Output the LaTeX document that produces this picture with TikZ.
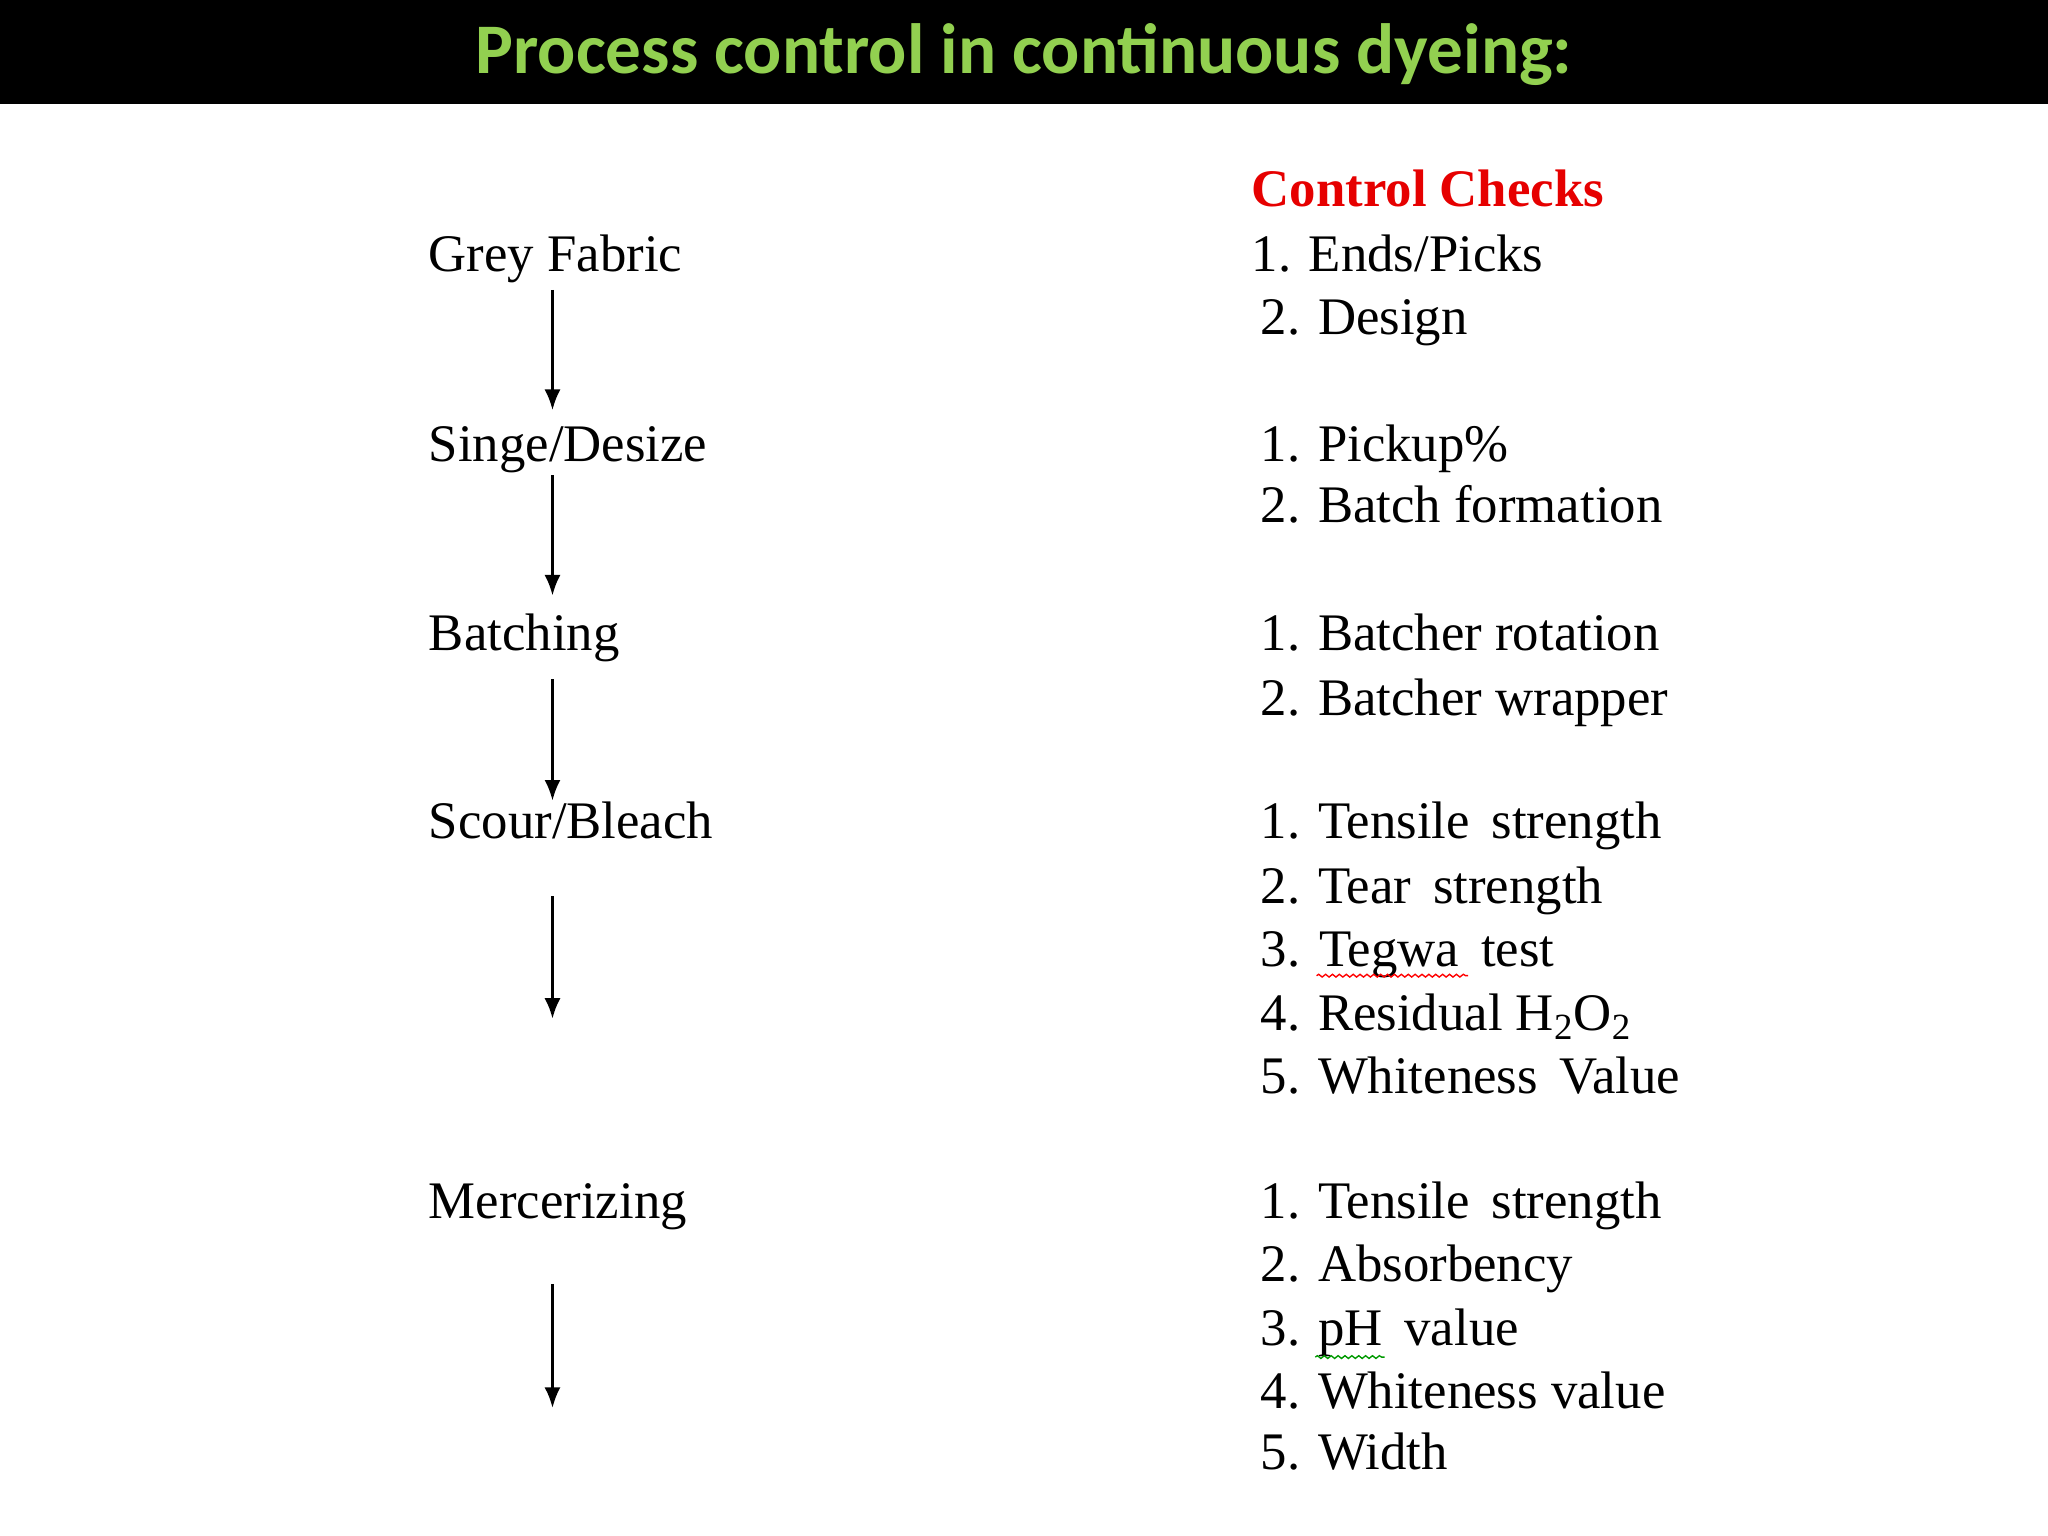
\documentclass[tikz,border=0pt]{standalone}
\usepackage{fontspec}
\setmainfont{Liberation Serif}
\newfontfamily\titlefont{Carlito}
\usetikzlibrary{arrows.meta,decorations.pathmorphing}
\definecolor{titlegreen}{RGB}{146,208,80}
\definecolor{ctlred}{RGB}{230,0,0}
\begin{document}
\begin{tikzpicture}[x=0.02cm,y=-0.02cm,
  lbl/.style={anchor=base west,inner sep=0pt,font=\fontsize{23}{26}\selectfont},
  flow/.style={-{Latex[length=9pt,width=7pt]},line width=1.2pt},
  squig/.style={decorate,decoration={snake,amplitude=0.6pt,segment length=3pt},line width=0.6pt}]
\useasboundingbox (0,0) rectangle (1568,1176);
\fill[black] (0,0) rectangle (1568,80);
\node (title) at (784,42) {\titlefont\bfseries\color{titlegreen}\fontsize{31}{36}\selectfont Process control in continuous dyeing:};
% left column
\node[lbl] (g) at (328,208) {Grey Fabric};
\node[lbl] (s) at (328,353) {Singe/Desize};
\node[lbl] (b) at (328,498) {Batching};
\node[lbl] (sc) at (328,642) {Scour/Bleach};
\node[lbl] (m) at (328,933) {Mercerizing};
\coordinate (a1) at (423,222); \coordinate (e1) at (423,314);
\coordinate (a2) at (423,364); \coordinate (e2) at (423,456);
\coordinate (a3) at (423,520); \coordinate (e3) at (423,613);
\coordinate (a4) at (423,686); \coordinate (e4) at (423,780);
\coordinate (a5) at (423,983); \coordinate (e5) at (423,1078);
\draw[flow] (a1) -- (e1);
\draw[flow] (a2) -- (e2);
\draw[flow] (a3) -- (e3);
\draw[flow] (a4) -- (e4);
\draw[flow] (a5) -- (e5);
% right column
\node[lbl,text=ctlred,font=\fontsize{23}{26}\selectfont\bfseries] (cc) at (958,158) {Control Checks};
\node[lbl] (r1) at (958,208) {1. Ends/Picks};
\node[lbl] (r2) at (965,256) {2. Design};
\node[lbl] (r3) at (965,353) {1. Pickup\%};
\node[lbl] (r4) at (965,400) {2. Batch formation};
\node[lbl] (r5) at (965,498) {1. Batcher rotation};
\node[lbl] (r6) at (965,548) {2. Batcher wrapper};
\node[lbl] (r7) at (965,642) {1. Tensile\, strength};
\node[lbl] (r8) at (965,692) {2. Tear\, strength};
\node[lbl] (r9) at (965,740) {3. \textsubscript{}Tegwa\, test};
\node[lbl] (r10) at (965,789) {4. Residual H\textsubscript{2}O\textsubscript{2}};
\node[lbl] (r11) at (965,837) {5. Whiteness\, Value};
\node[lbl] (r12) at (965,933) {1. Tensile\, strength};
\node[lbl] (r13) at (965,981) {2. Absorbency};
\node[lbl] (r14) at (965,1030) {3. pH\, value};
\node[lbl] (r15) at (965,1078) {4. Whiteness value};
\node[lbl] (r16) at (965,1125) {5. Width};
\draw[squig,red] (1008,747) -- (1124,747);
\draw[squig,green!60!black] (1007,1039) -- (1060,1039);
\end{tikzpicture}
\end{document}
